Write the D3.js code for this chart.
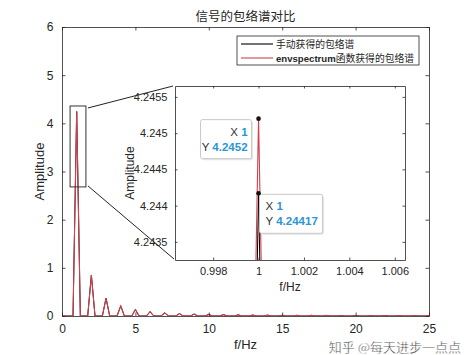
<!DOCTYPE html>
<html>
<head>
<meta charset="utf-8">
<script src="https://cdn.jsdelivr.net/npm/d3@7"></script>
<style>
  body { margin: 0; background: #fff; }
  svg { display: block; }
  text { font-family: "Liberation Sans", Arial, sans-serif; fill: #262626; }
  .cjk { font-family: "Noto Sans CJK SC", sans-serif; }
</style>
</head>
<body>
<svg id="chart" width="474" height="355"></svg>
<script>
// peaks of the envelope spectrum
const peakFreq = [1, 2, 3, 4, 5, 6, 7, 8, 9, 10, 11, 12, 13, 14, 15, 16, 17, 18, 19, 20, 21, 22, 23, 24, 25];
const manualPeaks = [4.24417, 0.85, 0.37, 0.21, 0.135, 0.09, 0.065, 0.05, 0.04, 0.033, 0.028, 0.024, 0.02,
  0.018, 0.016, 0.014, 0.013, 0.012, 0.011, 0.01, 0.009, 0.009, 0.008, 0.008, 0.007];
const envPeaks = [4.2452, 0.85, 0.37, 0.21, 0.135, 0.09, 0.065, 0.05, 0.04, 0.033, 0.028, 0.024, 0.02,
  0.018, 0.016, 0.014, 0.013, 0.012, 0.011, 0.01, 0.009, 0.009, 0.008, 0.008, 0.007];
const halfWidth = 0.25; // frequency resolution (Hz)

const xTicks = [0, 5, 10, 15, 20, 25];
const yTicks = [0, 1, 2, 3, 4, 5, 6];
const ixTicks = [0.998, 1, 1.002, 1.004, 1.006];
const iyTicks = [4.2435, 4.244, 4.2445, 4.245, 4.2455];

const zoomBox = { x0: 0.55, x1: 1.63, y0: 2.68, y1: 4.36 };
const tips = [
  { x: 1, y: 4.2452, label: "4.2452", side: "left" },
  { x: 1, y: 4.24417, label: "4.24417", side: "right" }
];

const black = "#000000";
const red = "#d2404e";
const axisColor = "#262626";
const tipBlue = "#2a96d2";

const svg = d3.select("#chart");

// turn peak list into a polyline (zero between peaks)
const toLine = peaks => {
  let pts = [[0, 0]];
  peakFreq.forEach((f, i) => {
    pts.push([f - halfWidth, 0]);
    pts.push([f, peaks[i]]);
    if (f + halfWidth <= 25) pts.push([f + halfWidth, 0]);
  });
  return pts;
};
const manualLine = toLine(manualPeaks);
const envLine = toLine(envPeaks);

// ---------- main axes ----------
const x = d3.scaleLinear().domain([0, 25]).range([62, 429]);
const y = d3.scaleLinear().domain([0, 6]).range([316, 27]);

svg.append("clipPath").attr("id", "clipMain")
  .append("rect").attr("x", 62).attr("y", 27).attr("width", 367).attr("height", 289);

const line = d3.line().x(d => x(d[0])).y(d => y(d[1]));

const main = svg.append("g");
main.append("g").attr("clip-path", "url(#clipMain)").call(g => {
  g.append("path").datum(manualLine).attr("d", line)
    .attr("fill", "none").attr("stroke", black).attr("stroke-width", 1);
  g.append("path").datum(envLine).attr("d", line)
    .attr("fill", "none").attr("stroke", red).attr("stroke-width", 1.1);
});

const tickLen = 3.5;
const drawAxes = (xs, ys, xt, yt, tl, fmtX, fmtY, fs) => {
  const g = svg.append("g");
  const [xa, xb] = xs.range();
  const [yb, ya] = ys.range();
  g.append("g").attr("transform", `translate(0,${yb})`)
    .call(d3.axisBottom(xs).tickValues(xt).tickSizeInner(-tl).tickSizeOuter(0).tickPadding(tl + 5).tickFormat(fmtX));
  g.append("g").attr("transform", `translate(0,${ya})`)
    .call(d3.axisTop(xs).tickValues(xt).tickSizeInner(-tl).tickSizeOuter(0).tickFormat(""));
  g.append("g").attr("transform", `translate(${xa},0)`)
    .call(d3.axisLeft(ys).tickValues(yt).tickSizeInner(-tl).tickSizeOuter(0).tickPadding(tl + 5).tickFormat(fmtY));
  g.append("g").attr("transform", `translate(${xb},0)`)
    .call(d3.axisRight(ys).tickValues(yt).tickSizeInner(-tl).tickSizeOuter(0).tickFormat(""));
  g.selectAll(".domain").attr("stroke", axisColor).attr("stroke-width", 0.8);
  g.selectAll(".tick line").attr("stroke", axisColor).attr("stroke-width", 0.8);
  g.selectAll(".tick text").attr("font-size", fs).attr("fill", axisColor)
    .attr("font-family", "Liberation Sans, Arial, sans-serif");
  return g;
};

drawAxes(x, y, xTicks, yTicks, tickLen, d3.format("d"), d3.format("d"), 12);

// title and labels
svg.append("text").attr("class", "cjk").attr("x", 245.5).attr("y", 21)
  .attr("text-anchor", "middle").attr("font-size", 12.5).text("信号的包络谱对比");
svg.append("text").attr("x", 245.5).attr("y", 349).attr("text-anchor", "middle")
  .attr("font-size", 13).text("f/Hz");
svg.append("text").attr("transform", `translate(44,171.5) rotate(-90)`).attr("text-anchor", "middle")
  .attr("font-size", 13).text("Amplitude");

// zoom rectangle
svg.append("rect")
  .attr("x", x(zoomBox.x0)).attr("y", y(zoomBox.y1))
  .attr("width", x(zoomBox.x1) - x(zoomBox.x0)).attr("height", y(zoomBox.y0) - y(zoomBox.y1))
  .attr("fill", "none").attr("stroke", "#333").attr("stroke-width", 1);

// ---------- legend ----------
const legend = svg.append("g").attr("transform", "translate(237,36)");
legend.append("rect").attr("width", 182).attr("height", 29)
  .attr("fill", "#fff").attr("stroke", "#262626").attr("stroke-width", 0.8);
const legItems = [
  { color: black, label: "手动获得的包络谱", bold: "" },
  { color: red, label: "函数获得的包络谱", bold: "envspectrum" }
];
legItems.forEach((d, i) => {
  const yy = 8 + i * 14;
  legend.append("line").attr("x1", 4).attr("x2", 36).attr("y1", yy).attr("y2", yy)
    .attr("stroke", d.color).attr("stroke-width", 1.1);
  const t = legend.append("text").attr("x", 39).attr("y", yy + 3.5).attr("font-size", 10);
  if (d.bold) t.append("tspan").attr("font-weight", "bold").attr("font-size", 9.6).text(d.bold);
  t.append("tspan").attr("font-family", "Noto Sans CJK SC, sans-serif").attr("font-size", 9.8).text(d.label);
});

// ---------- inset ----------
const ix = d3.scaleLinear().domain([0.99632, 1.00645]).range([175, 405]);
const iy = d3.scaleLinear().domain([4.24325, 4.24565]).range([260, 86]);

// connectors from zoom box to inset
svg.append("line").attr("x1", x(zoomBox.x1) + 2).attr("y1", y(zoomBox.y1) + 2)
  .attr("x2", ix.range()[0] - 2).attr("y2", iy.range()[1])
  .attr("stroke", "#222").attr("stroke-width", 1);
svg.append("line").attr("x1", x(zoomBox.x1) + 2).attr("y1", y(zoomBox.y0) - 1)
  .attr("x2", ix.range()[0] - 1).attr("y2", iy.range()[0] - 1)
  .attr("stroke", "#222").attr("stroke-width", 1);

svg.append("rect").attr("x", 175).attr("y", 86).attr("width", 230).attr("height", 174).attr("fill", "#fff");
svg.append("clipPath").attr("id", "clipInset")
  .append("rect").attr("x", 175).attr("y", 86).attr("width", 230).attr("height", 174);

const iline = d3.line().x(d => ix(d[0])).y(d => iy(d[1]));
const inset = svg.append("g").attr("clip-path", "url(#clipInset)");
inset.append("path").datum(manualLine).attr("d", iline)
  .attr("fill", "none").attr("stroke", black).attr("stroke-width", 1);
inset.append("path").datum(envLine).attr("d", iline)
  .attr("fill", "none").attr("stroke", red).attr("stroke-width", 1.1);

drawAxes(ix, iy, ixTicks, iyTicks, 2.5, d => d3.format("")(d), d => d3.format("")(d), 11);

svg.append("text").attr("x", 290).attr("y", 291).attr("text-anchor", "middle")
  .attr("font-size", 12).text("f/Hz");
svg.append("text").attr("transform", `translate(134,173) rotate(-90)`).attr("text-anchor", "middle")
  .attr("font-size", 12).text("Amplitude");

// ---------- datatips ----------
tips.forEach(d => {
  const px = ix(d.x), py = iy(d.y);
  const w = d.side === "left" ? 51 : 63, h = 39;
  const bx = d.side === "left" ? px - w - 7 : px + 1;
  const by = py + 1;
  const g = svg.append("g");
  g.append("rect").attr("x", bx + 1.5).attr("y", by + 1.5).attr("width", w).attr("height", h)
    .attr("rx", 2).attr("fill", "#e6e6e6");
  g.append("rect").attr("x", bx).attr("y", by).attr("width", w).attr("height", h)
    .attr("rx", 2).attr("fill", "#fff").attr("stroke", "#c8c8c8").attr("stroke-width", 1);
  const anchor = d.side === "left" ? "end" : "start";
  const tx = d.side === "left" ? bx + w - 4 : bx + 6;
  [["X ", "1"], ["Y ", d.label]].forEach((row, i) => {
    const t = g.append("text").attr("x", tx).attr("y", by + 16 + i * 15)
      .attr("text-anchor", anchor).attr("font-size", 11.5);
    t.append("tspan").attr("fill", "#333").text(row[0]);
    t.append("tspan").attr("fill", tipBlue).attr("font-weight", "bold").text(row[1]);
  });
  svg.append("circle").attr("cx", px).attr("cy", py).attr("r", 2.3).attr("fill", "#111");
});

// watermark
svg.append("text").attr("class", "cjk").attr("x", 461).attr("y", 352).attr("text-anchor", "end")
  .attr("font-size", 13).attr("fill", "#cfcfcf").attr("stroke", "#fff").attr("stroke-width", 0.4)
  .text("知乎 @每天进步一点点");
</script>
</body>
</html>
